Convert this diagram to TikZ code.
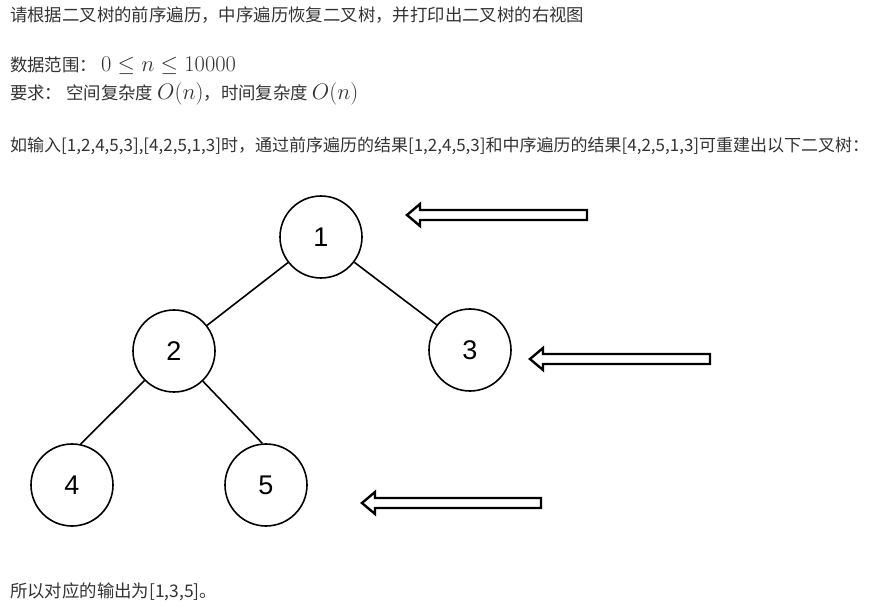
\documentclass[tikz,border=0pt]{standalone}
\usepackage{fontspec}
\newfontfamily\cjk{Noto Sans CJK SC}
\newfontfamily\lib{Liberation Sans}
\begin{document}
\begin{tikzpicture}[x=1pt,y=-1pt,
  txt/.style={anchor=west,inner sep=0pt,text=black!80,font=\cjk\fontsize{17.4}{20}\selectfont},
  tn/.style={circle,draw,line width=1.6pt,minimum size=82pt,inner sep=0pt,font=\lib\fontsize{27}{30}\selectfont},
  edge/.style={line width=1.6pt},
  harrow/.style={draw,line width=2.4pt,fill=white,line join=miter}]
\useasboundingbox (0,0) rectangle (887,612);
\node[txt] (t1) at (10,15) {请根据二叉树的前序遍历，中序遍历恢复二叉树，并打印出二叉树的右视图};
\node[txt] (t2) at (10,66) {数据范围：\ \scalebox{1.3}{$0 \le n \le 10000$}};
\node[txt] (t3) at (10,94) {要求：\ 空间复杂度 \scalebox{1.3}{$O(n)$}，时间复杂度 \scalebox{1.3}{$O(n)$}};
\node[txt,font=\cjk\fontsize{17}{20}\selectfont] (t4) at (10,146) {如输入[1,2,4,5,3],[4,2,5,1,3]时，通过前序遍历的结果[1,2,4,5,3]和中序遍历的结果[4,2,5,1,3]可重建出以下二叉树：};
\node[txt] (t5) at (10,592) {所以对应的输出为[1,3,5]。};
\node[tn] (n1) at (321,237) {1};
\node[tn] (n2) at (174,351) {2};
\node[tn] (n3) at (470,350) {3};
\node[tn] (n4) at (72,485) {4};
\node[tn] (n5) at (266,485) {5};
\draw[edge] (n1) -- (n2);
\draw[edge] (n1) -- (n3);
\draw[edge] (n2) -- (n4.78);
\draw[edge] (n2) -- (n5.95);
\foreach \nm/\tx/\ty/\ex in {a1/407/215/587, a2/530/359/710, a3/362/503/541}{
  \coordinate (\nm) at (\tx,\ty);
  \draw[harrow] (\nm) -- ++(13,-11) -- ++(0,6) -- (\ex,\ty-5) -- (\ex,\ty+5) -- (\tx+13,\ty+5) -- ++(0,6) -- cycle;
}
\end{tikzpicture}
\end{document}
